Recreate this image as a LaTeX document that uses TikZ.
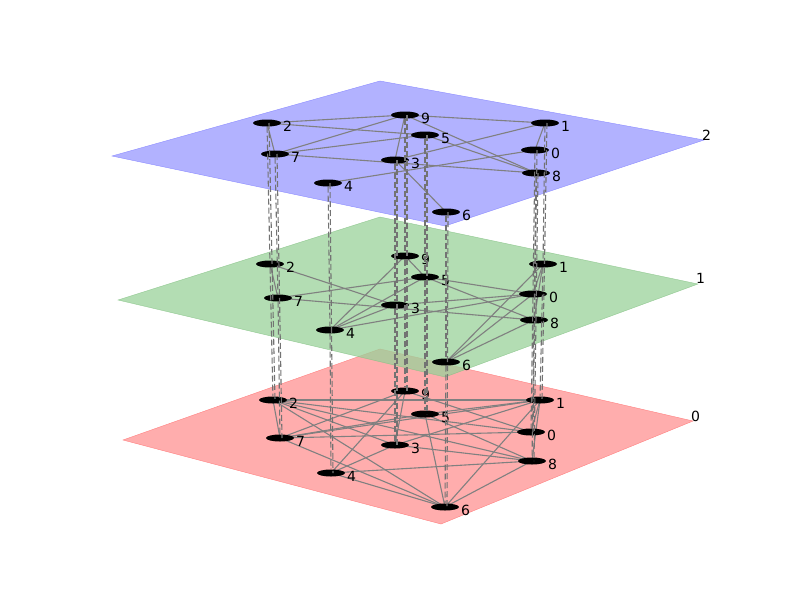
\documentclass[tikz,border=0pt]{standalone}
\usepackage{fontspec}
\setmainfont{DejaVu Sans}
\usetikzlibrary{shapes.geometric}
\begin{document}
\begin{tikzpicture}[x=1pt,y=-1pt,
  vtx/.style={ellipse,fill=black,minimum width=28pt,minimum height=7pt,inner sep=0pt},
  lbl/.style={font=\fontsize{14}{16}\selectfont,anchor=west,inner sep=0pt},
  edge/.style={draw=gray,line width=1.1pt},
  inter/.style={draw=black!55,line width=1.1pt,dash pattern=on 6pt off 3pt}]
\useasboundingbox (0,0) rectangle (800,600);
% ---- bottom layer
\fill[red!32,draw=red!50] (123,440)--(380,349)--(693,421)--(441,524)--cycle;
\node[lbl] (L0) at (691,416) {0};
\foreach \n/\x/\y in {2/273/400,9/405/391,1/540/400,5/425/414,0/531/432,7/280/438,3/395/445,8/532/461,4/331/473,6/445/507}
  \coordinate (b\n) at (\x,\y);
\foreach \a/\b in {2/1,2/0,2/3,2/6,2/7,9/7,9/4,9/3,9/0,5/7,5/1,5/6,5/8,7/1,7/0,7/6,3/1,3/8,3/4,4/8,4/6,1/6,1/8,1/0,6/8,2/8}
  \draw[edge] (b\a)--(b\b);
\foreach \n in {0,...,9} {\node[vtx] (B\n) at (b\n) {}; \node[lbl] at ([xshift=16pt,yshift=-3pt]b\n) {\n};}
% ---- middle layer
\fill[green!55!black!40,opacity=0.75,draw=green!50!black!50] (118,300)--(380,217)--(698,284)--(445,377)--cycle;
\node[lbl] (L1) at (696,278) {1};
\foreach \n/\x/\y in {2/270/264,9/405/256,1/543/264,5/425/277,0/533/294,7/278/298,3/395/305,8/534/320,4/330/330,6/446/362}
  \coordinate (m\n) at (\x,\y);
\foreach \a/\b in {2/7,2/3,9/5,9/4,5/7,5/4,5/0,5/8,7/8,3/0,4/3,4/0,1/8,1/6,1/0,0/6,8/6}
  \draw[edge] (m\a)--(m\b);
\foreach \n in {0,...,9} {\node[vtx] (M\n) at (m\n) {}; \node[lbl] at ([xshift=16pt,yshift=-3pt]m\n) {\n};}
% ---- top layer
\fill[blue!30,draw=blue!45] (112,156)--(380,81)--(704,140)--(445,226)--cycle;
\node[lbl] (L2) at (702,135) {2};
\foreach \n/\x/\y in {2/267/123,9/405/115,1/545/123,5/425/135,0/535/150,7/275/154,3/395/160,8/536/173,4/328/183,6/446/212}
  \coordinate (t\n) at (\x,\y);
\foreach \a/\b in {2/9,2/5,2/7,9/1,9/7,9/3,9/8,5/7,5/8,7/8,3/1,3/6,4/0,1/0}
  \draw[edge] (t\a)--(t\b);
\foreach \n in {0,...,9} {\node[vtx] (T\n) at (t\n) {}; \node[lbl] at ([xshift=16pt,yshift=-3pt]t\n) {\n};}
% ---- inter-layer links
\foreach \n in {0,...,9} {
  \draw[inter] (T\n)--(M\n);
  \draw[inter] (M\n)--(B\n);
  \draw[inter] ([xshift=2pt]T\n.center)--([xshift=2pt]B\n.center);
}
\end{tikzpicture}
\end{document}
